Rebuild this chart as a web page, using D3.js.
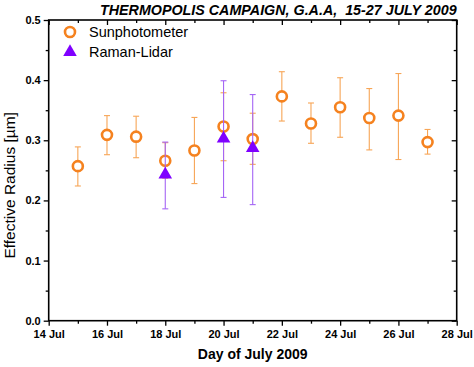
<!DOCTYPE html>
<html><head><meta charset="utf-8">
<script src="https://cdn.jsdelivr.net/npm/d3@7"></script>
<style>body{margin:0;background:#fff;}svg{display:block;font-family:"Liberation Sans",Arial,Helvetica,sans-serif;}</style>
</head><body>
<svg id="c" width="474" height="367"></svg>
<script>
// Sunphotometer
const sunDays = [15,16,17,18,19,20,21,22,23,24,25,26,27];
const sunValues = [0.257,0.309,0.306,0.266,0.283,0.323,0.302,0.373,0.328,0.355,0.337,0.341,0.297];
const sunHigh  = [0.289,0.341,0.340,0.296,0.338,0.379,0.345,0.414,0.362,0.404,0.386,0.411,0.318];
const sunLow   = [0.224,0.276,0.271,0.237,0.228,0.266,0.260,0.332,0.295,0.305,0.284,0.268,0.277];
// Raman-Lidar
const lidDays = [18,20,21];
const lidValues = [0.243,0.303,0.287];
const lidHigh = [0.297,0.399,0.376];
const lidLow = [0.186,0.205,0.193];
const xMajorTicks = [14,16,18,20,22,24,26,28];
const xMinorTicks = [15,17,19,21,23,25,27];
const yMajorTicks = [0,0.1,0.2,0.3,0.4,0.5];
const yMinorTicks = [0.05,0.15,0.25,0.35,0.45];
const titleText = "THERMOPOLIS CAMPAIGN, G.A.A,  15-27 JULY 2009";
const xTitle = "Day of July 2009";
const yTitle = "Effective Radius [µm]";
const seriesNames = ["Sunphotometer","Raman-Lidar"];

const svg = d3.select("#c");
const L=48.7, R=456.7, T=20, B=320.7;
const x = d3.scaleLinear().domain([14,28]).range([L,R]);
const y = d3.scaleLinear().domain([0,0.5]).range([B,T]);

const orange="#f5821f", orangeBar="#f7a556", purple="#7f00ff", purpleBar="#a566f5";

const fmtX = d => d + " Jul";
const gB = svg.append("g").attr("transform",`translate(0,${B})`)
  .call(d3.axisBottom(x).tickValues(xMajorTicks).tickFormat(fmtX).tickSize(5).tickSizeOuter(0));
svg.append("g").attr("transform",`translate(0,${B})`)
  .call(d3.axisBottom(x).tickValues(xMinorTicks).tickFormat("").tickSize(3).tickSizeOuter(0));
svg.append("g").attr("transform",`translate(0,${T})`)
  .call(d3.axisBottom(x).tickValues(xMajorTicks).tickFormat("").tickSize(5).tickSizeOuter(0));
svg.append("g").attr("transform",`translate(0,${T})`)
  .call(d3.axisBottom(x).tickValues(xMinorTicks).tickFormat("").tickSize(3).tickSizeOuter(0));
const gL = svg.append("g").attr("transform",`translate(${L},0)`)
  .call(d3.axisLeft(y).tickValues(yMajorTicks).tickFormat(d3.format(".1f")).tickSize(5).tickSizeOuter(0));
svg.append("g").attr("transform",`translate(${L},0)`)
  .call(d3.axisLeft(y).tickValues(yMinorTicks).tickFormat("").tickSize(3).tickSizeOuter(0));
svg.append("g").attr("transform",`translate(${R},0)`)
  .call(d3.axisLeft(y).tickValues(yMajorTicks).tickFormat("").tickSize(5).tickSizeOuter(0));
svg.append("g").attr("transform",`translate(${R},0)`)
  .call(d3.axisLeft(y).tickValues(yMinorTicks).tickFormat("").tickSize(3).tickSizeOuter(0));
svg.selectAll(".domain").remove();
svg.selectAll(".tick line").attr("stroke","#000").attr("stroke-width",1.3);
svg.selectAll(".tick text").attr("font-size",11).attr("font-weight","bold").attr("fill","#000")
  .attr("font-family","'Liberation Sans',Arial,sans-serif");
gB.selectAll(".tick text").attr("dy","0.9em").attr("y",7);
gL.selectAll(".tick text").attr("x",-8);
svg.append("rect").attr("x",L).attr("y",T).attr("width",R-L).attr("height",B-T)
  .attr("fill","none").attr("stroke","#000").attr("stroke-width",1.6);

const cap=3;
function errBars(days,hi,lo,color,width){
  const g=svg.append("g").attr("stroke",color).attr("stroke-width",width);
  days.forEach((d,i)=>{
    const cx=x(d);
    g.append("line").attr("x1",cx).attr("x2",cx).attr("y1",y(hi[i])).attr("y2",y(lo[i]));
    g.append("line").attr("x1",cx-cap).attr("x2",cx+cap).attr("y1",y(hi[i])).attr("y2",y(hi[i]));
    g.append("line").attr("x1",cx-cap).attr("x2",cx+cap).attr("y1",y(lo[i])).attr("y2",y(lo[i]));
  });
}
errBars(sunDays,sunHigh,sunLow,orangeBar,1.1);
svg.append("g").selectAll("circle").data(sunDays).join("circle")
  .attr("cx",d=>x(d)).attr("cy",(d,i)=>y(sunValues[i])).attr("r",5)
  .attr("fill","#fff").attr("stroke",orange).attr("stroke-width",2.6);
errBars(lidDays,lidHigh,lidLow,purpleBar,1.1);
const tri = d3.symbol().type(d3.symbolTriangle).size(80);
svg.append("g").selectAll("path").data(lidDays).join("path")
  .attr("d",tri).attr("transform",(d,i)=>`translate(${x(d)},${y(lidValues[i])})`)
  .attr("fill",purple);

const lg=svg.append("g");
lg.append("circle").attr("cx",70).attr("cy",32).attr("r",5).attr("fill","#fff").attr("stroke",orange).attr("stroke-width",2.6);
lg.append("text").attr("x",89).attr("y",37).attr("font-size",14.5).text(seriesNames[0]);
lg.append("path").attr("d",tri).attr("transform","translate(70,52)").attr("fill",purple);
lg.append("text").attr("x",89).attr("y",57).attr("font-size",14.5).text(seriesNames[1]);

svg.append("text").attr("x",R).attr("y",15).attr("text-anchor","end").attr("font-size",14.3)
  .attr("font-weight","bold").attr("font-style","italic").style("white-space","pre").text(titleText);
svg.append("text").attr("x",(L+R)/2).attr("y",359).attr("text-anchor","middle").attr("font-size",14)
  .attr("font-weight","bold").text(xTitle);
svg.append("text").attr("transform",`translate(15,${(T+B)/2+15}) rotate(-90)`).attr("text-anchor","middle")
  .attr("font-size",15.5).text(yTitle);
</script>
</body></html>
